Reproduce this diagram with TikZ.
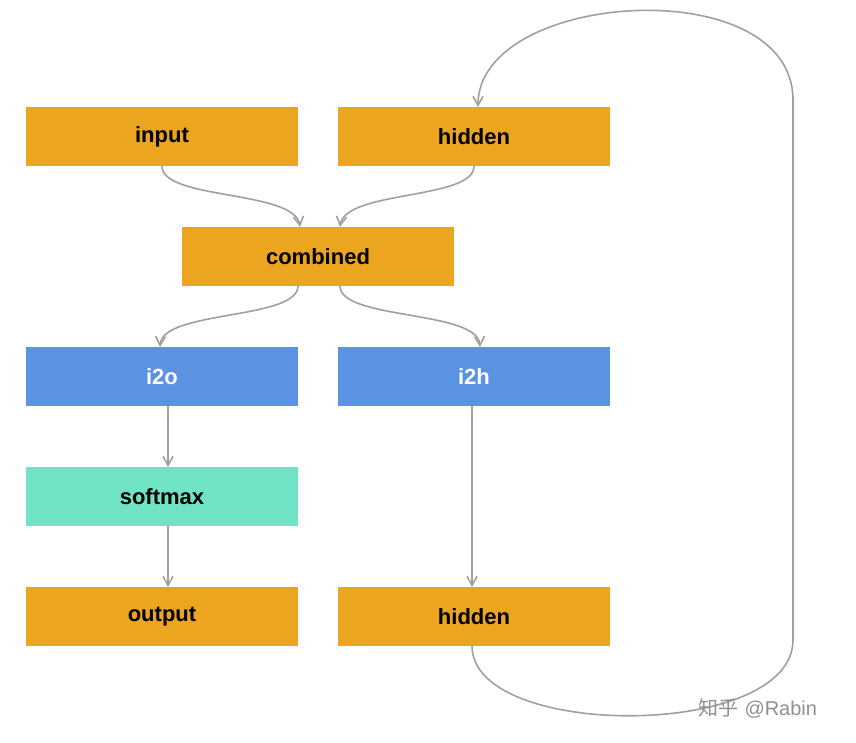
\documentclass[tikz,border=0pt]{standalone}
\usepackage{fontspec}
\setmainfont{Liberation Sans}
\newfontfamily\cjk{Noto Sans CJK SC}
\usetikzlibrary{arrows.meta}
\definecolor{org}{HTML}{EBA51E}
\definecolor{blu}{HTML}{5B93E2}
\definecolor{tea}{HTML}{6FE3C3}
\definecolor{arr}{HTML}{A0A0A0}
\begin{document}
\begin{tikzpicture}[x=1pt,y=-1pt,
 box/.style={minimum width=272pt,minimum height=59pt,inner sep=0pt,font=\fontsize{22}{24}\selectfont\bfseries},
 ar/.style={draw=arr,line width=1.6pt,-{Straight Barb[length=9pt,width=10pt]}}]
\useasboundingbox[fill=white] (0,0) rectangle (856,742);
\node[box,fill=org] (in) at (162,136.5) {input};
\node[box,fill=org] (h1) at (474,136.5) {hidden};
\node[box,fill=org] (co) at (318,256.5) {combined};
\node[box,fill=blu,text=white] (io) at (162,376.5) {i2o};
\node[box,fill=blu,text=white] (ih) at (474,376.5) {i2h};
\node[box,fill=tea] (sm) at (162,496.5) {softmax};
\node[box,fill=org] (out) at (162,616.5) {output};
\node[box,fill=org] (h2) at (474,616.5) {hidden};
\draw[ar] (in.south) .. controls (162,200) and (295,190) .. (300,227);
\draw[ar] (h1.south) .. controls (474,200) and (345,190) .. (340,227);
\draw[ar] (298,286) .. controls (298,320) and (162,310) .. (160,347);
\draw[ar] (340,286) .. controls (340,320) and (478,310) .. (480,347);
\draw[ar] (168,406) -- (168,467);
\draw[ar] (168,526) -- (168,587);
\draw[ar] (472,406) -- (472,587);
\coordinate (r1) at (793,100);
\coordinate (r2) at (793,640);
\draw[ar] (472,646) .. controls (472,740) and (793,740) .. (r2) -- (r1) .. controls (793,-30) and (478,-10) .. (478,107);
\node[text=arr!90!black,font=\fontsize{20}{22}\selectfont] (wm) at (758,708) {{\cjk 知乎} @Rabin};
\end{tikzpicture}
\end{document}
